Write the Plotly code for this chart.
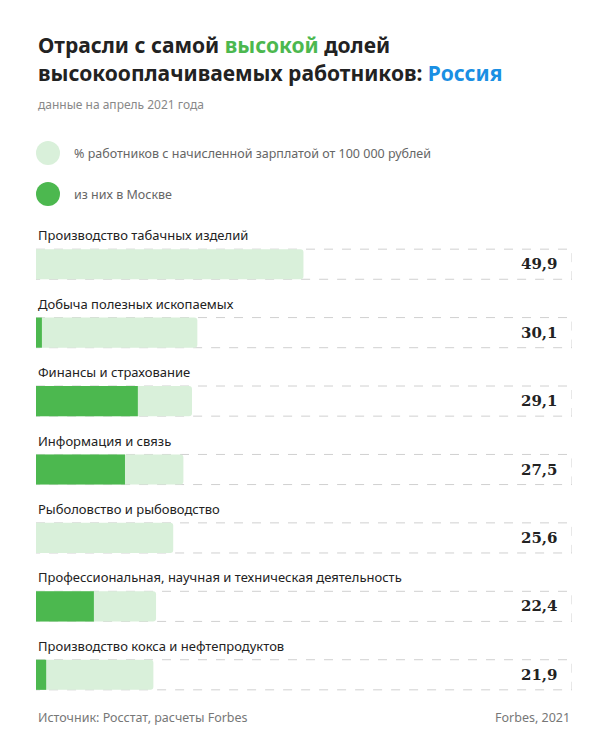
import plotly.graph_objects as go

categories = ["Производство табачных изделий", "Добыча полезных ископаемых", "Финансы и страхование",
              "Информация и связь", "Рыболовство и рыбоводство",
              "Профессиональная, научная и техническая деятельность", "Производство кокса и нефтепродуктов"]
total = [49.9, 30.1, 29.1, 27.5, 25.6, 22.4, 21.9]
moscow = [0, 1.1, 19.0, 16.6, 0, 10.8, 1.9]
labels = ["49,9", "30,1", "29,1", "27,5", "25,6", "22,4", "21,9"]

OFF = 8  # page body margin
W, H = 608 - OFF, 745 - OFF
L, R, T, B = 36 - OFF, 36, 230 - OFF, 35.5
PW, PH = W - L - R, H - T - B

def px(x):
    return (x - OFF - L) / PW

def py(y):
    return 1 - (y - OFF - T) / PH

idx = list(range(len(categories)))
fig = go.Figure()
fig.add_bar(y=idx, x=total, orientation="h", width=0.44, marker=dict(color="#d9f0da", line_width=0), hoverinfo="skip")
fig.add_bar(y=idx, x=moscow, orientation="h", width=0.44, marker=dict(color="#4cb84f", line_width=0), hoverinfo="skip")

for i, c in enumerate(categories):
    fig.add_shape(type="rect", xref="x", yref="y", x0=0, x1=100, y0=i - 0.22, y1=i + 0.22,
                  line=dict(color="#d0d0d0", width=1, dash="dash"), layer="below")
    fig.add_annotation(x=0, y=i, xref="x", yref="y", text=c, showarrow=False, xanchor="left",
                       yshift=29, font=dict(family="Noto Sans", size=13, color="#222"))
    fig.add_annotation(x=100, y=i, xref="x", yref="y", text="<b>" + labels[i] + "</b>", showarrow=False,
                       xanchor="right", xshift=-12, font=dict(family="DejaVu Serif", size=15, color="#222"))

def ann(x, y, text, size, color="#222", xanchor="left"):
    fig.add_annotation(x=px(x), y=py(y), xref="paper", yref="paper", text=text, showarrow=False,
                       xanchor=xanchor, yanchor="middle", font=dict(family="Noto Sans", size=size, color=color))

ann(36, 45, "<b>Отрасли с самой <span style='color:#4cb84f'>высокой</span> долей</b>", 21)
ann(36, 73, "<b>высокооплачиваемых работников: <span style='color:#1a8fe3'>Россия</span></b>", 21)
ann(36, 104, "данные на апрель 2021 года", 12, "#888")
ann(72, 153, "% работников с начисленной зарплатой от 100 000 рублей", 12.5, "#666")
ann(72, 194, "из них в Москве", 12.5, "#666")
ann(36, 718, "Источник: Росстат, расчеты Forbes", 12.5, "#777")
ann(572, 718, "Forbes, 2021", 12.5, "#777", "right")
for cy, col in [(153, "#d9f0da"), (194, "#4cb84f")]:
    fig.add_shape(type="circle", xref="paper", yref="paper", x0=px(36), x1=px(60),
                  y0=py(cy + 12), y1=py(cy - 12), fillcolor=col, line_width=0)

fig.update_layout(width=W, height=H, barmode="overlay", barcornerradius=3, showlegend=False,
                  plot_bgcolor="white", paper_bgcolor="white",
                  margin=dict(l=L, r=R, t=T, b=B),
                  xaxis=dict(range=[0, 100], visible=False, fixedrange=True),
                  yaxis=dict(range=[6.5, -0.5], visible=False, fixedrange=True))
fig.write_html("out.html")
